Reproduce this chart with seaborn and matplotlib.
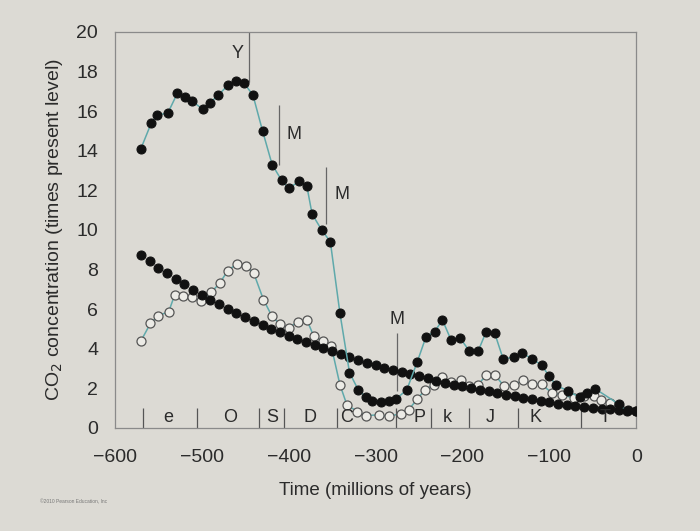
"""
CO2 concentration through the Phanerozoic, redrawn from a textbook figure.
"""

import matplotlib
matplotlib.use('Agg')
import matplotlib.pyplot as plt
import seaborn as sns

# upper curve, filled dots on a teal line
time_upper = [-570, -558, -551, -539, -528, -519, -511, -499, -491, -481, -470, -460,
              -451, -441, -430, -419, -408, -400, -388, -379, -373, -362, -352, -341,
              -330, -320, -311, -304, -294, -285, -276, -264, -252, -242, -232, -223,
              -213, -203, -192, -182, -173, -163, -153, -141, -131, -120, -109, -100,
              -92, -79, -65, -57, -47, -20, -11, 0]
co2_upper = [14.1, 15.4, 15.8, 15.9, 16.9, 16.7, 16.5, 16.1, 16.4, 16.8, 17.3, 17.5,
             17.4, 16.8, 15.0, 13.3, 12.5, 12.1, 12.45, 12.2, 10.8, 10.0, 9.4, 5.8,
             2.8, 1.93, 1.56, 1.34, 1.3, 1.34, 1.48, 1.93, 3.34, 4.6, 4.87, 5.45,
             4.43, 4.56, 3.88, 3.88, 4.83, 4.8, 3.46, 3.6, 3.77, 3.5, 3.17, 2.6,
             2.15, 1.88, 1.54, 1.77, 1.97, 1.2, 0.86, 0.86]

# smooth declining curve, filled dots only
time_trend = [-570, -560, -550, -540, -530, -520, -510, -500, -490, -480, -470, -460,
              -450, -440, -430, -420, -410, -400, -390, -380, -370, -360, -350, -340,
              -330, -320, -310, -300, -290, -280, -270, -260, -250, -240, -230, -220,
              -210, -200, -190, -180, -170, -160, -150, -140, -130, -120, -110, -100,
              -90, -80, -70, -60, -50, -40, -30, -20, -10, 0]
co2_trend = [8.75, 8.45, 8.1, 7.8, 7.5, 7.25, 6.95, 6.7, 6.45, 6.25, 6.0, 5.8,
             5.6, 5.4, 5.2, 5.0, 4.85, 4.65, 4.5, 4.35, 4.2, 4.05, 3.9, 3.75,
             3.6, 3.45, 3.3, 3.2, 3.05, 2.95, 2.85, 2.72, 2.6, 2.5, 2.38, 2.28,
             2.18, 2.1, 2.0, 1.93, 1.85, 1.77, 1.68, 1.6, 1.52, 1.44, 1.36, 1.3,
             1.22, 1.17, 1.12, 1.06, 1.02, 0.98, 0.95, 0.93, 0.9, 0.88]

# lower curve, open dots on a teal line
time_lower = [-570, -559, -550, -538, -531, -522, -511, -501, -489, -479, -470, -459,
              -449, -440, -429, -419, -410, -400, -389, -379, -371, -360, -351, -341,
              -333, -321, -311, -296, -285, -271, -262, -252, -243, -233, -223, -213,
              -202, -192, -182, -173, -163, -152, -141, -130, -120, -109, -97, -85,
              -72, -60, -49, -41, -30, -20]
co2_lower = [4.39, 5.28, 5.67, 5.87, 6.73, 6.68, 6.6, 6.43, 6.85, 7.33, 7.95, 8.3,
             8.17, 7.8, 6.48, 5.63, 5.24, 5.07, 5.36, 5.46, 4.62, 4.39, 4.14, 2.19,
             1.17, 0.83, 0.63, 0.66, 0.58, 0.73, 0.92, 1.46, 1.93, 2.19, 2.58, 2.3,
             2.4, 2.1, 2.19, 2.65, 2.7, 2.1, 2.19, 2.4, 2.23, 2.2, 1.77, 1.68,
             1.5, 1.6, 1.6, 1.43, 1.25, 1.08]

# geological periods along the bottom
period_bounds = [-567, -506, -434, -405, -344, -277, -236, -193, -136, -64]
period_names = ['e', 'O', 'S', 'D', 'C', 'P', 'k', 'J', 'K', 'T']
period_label_x = [-538, -467, -419, -375, -333, -250, -218, -168, -116, -36]

# event markers (Y, M, M, M)
event_names = ['Y', 'M', 'M', 'M']
event_x = [-446, -411, -357, -275]
event_line_lo = [17.45, 13.3, 10.3, 1.85]
event_line_hi = [20.0, 16.3, 13.2, 4.8]
event_text_x = [-459, -394, -339, -275]
event_text_y = [18.9, 14.8, 11.8, 5.5]

paper = '#dcdad4'
teal = '#5fa9ab'
ink = '#2b2b2b'

sns.set_style('white')
plt.rcParams['font.family'] = ['Liberation Sans', 'DejaVu Sans']

fig = plt.figure(figsize=(7.0, 5.31), dpi=100, facecolor=paper)
ax = fig.add_axes([0.164, 0.194, 0.745, 0.746])
ax.set_facecolor(paper)

# curves
sns.lineplot(x=time_trend, y=co2_trend, ax=ax, sort=False, color=ink, linewidth=0,
             marker='o', markersize=6.5, markerfacecolor='#111111',
             markeredgecolor='#111111', zorder=3)
sns.lineplot(x=time_lower, y=co2_lower, ax=ax, sort=False, color=teal, linewidth=1.1,
             marker='o', markersize=6.5, markerfacecolor='#ecebe6',
             markeredgecolor='#555555', markeredgewidth=0.9, zorder=2)
sns.lineplot(x=time_upper, y=co2_upper, ax=ax, sort=False, color=teal, linewidth=1.1,
             marker='o', markersize=6.5, markerfacecolor='#111111',
             markeredgecolor='#111111', zorder=4)

# period boundaries and names
ax.vlines(period_bounds, 0, 1.0, color='#555555', linewidth=0.9)
for name, xp in zip(period_names, period_label_x):
    ax.text(xp, 0.55, name, ha='center', va='center', fontsize=13, color=ink)

# Y / M markers
ax.vlines(event_x, event_line_lo, event_line_hi, color='#666666', linewidth=0.9)
for name, xt, yt in zip(event_names, event_text_x, event_text_y):
    ax.text(xt, yt, name, ha='center', va='center', fontsize=13, color=ink)

ax.set_xlim(-600, 0)
ax.set_ylim(0, 20)
ax.set_xticks(range(-600, 1, 100))
ax.set_yticks(range(0, 21, 2))
ax.tick_params(axis='both', direction='out', length=6, width=0.8, colors='#777777',
               labelcolor=ink, labelsize=14)
ax.tick_params(axis='x', pad=9)
ax.tick_params(axis='y', pad=6)
for spine in ax.spines.values():
    spine.set_color('#8a8a8a')
    spine.set_linewidth(0.9)

ax.set_xlabel('Time (millions of years)', fontsize=13.5, color=ink, labelpad=12)
ax.set_ylabel('CO$_2$ concentration (times present level)', fontsize=14,
              color=ink, labelpad=8)

fig.text(0.057, 0.052, '\u00a92010 Pearson Education, Inc', fontsize=3.5, color='#777777')

fig.savefig('out.png', dpi=100, facecolor=paper)
